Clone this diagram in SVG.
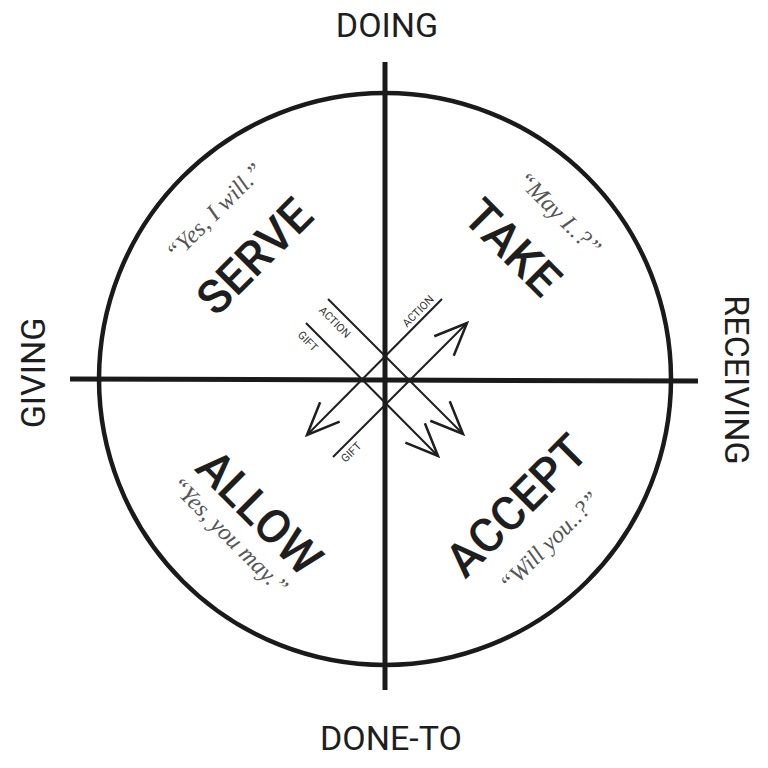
<svg xmlns="http://www.w3.org/2000/svg" width="768" height="768" viewBox="0 0 768 768">
<defs>
<style>
.axis{font-family:Roboto,"Liberation Sans",sans-serif;font-size:34px;fill:#1e1e1e;text-anchor:middle}
.big{font-family:Roboto,"Liberation Sans",sans-serif;font-size:47px;font-weight:500;fill:#1e1e1e;text-anchor:middle}
.quote{font-family:"Liberation Serif",serif;font-style:italic;font-size:24px;fill:#555;text-anchor:middle}
.small{font-family:Roboto,"Liberation Sans",sans-serif;font-size:11px;fill:#333;text-anchor:middle}
.arrow{stroke:#1e1e1e;stroke-width:2;fill:none;marker-end:url(#head)}
</style>
<marker id="head" markerUnits="userSpaceOnUse" markerWidth="40" markerHeight="40" viewBox="-30 -15 32 30" refX="0" refY="0" orient="auto">
<path d="M-26,-11 L0,0 L-26,11" fill="none" stroke="#1e1e1e" stroke-width="2"/>
</marker>
</defs>
<rect width="768" height="768" fill="#fff"/>
<g id="frame" stroke="#1a1a1a" fill="none">
<circle cx="385" cy="379" r="286" stroke-width="4.5"/>
<line x1="385" y1="62" x2="385" y2="690" stroke-width="5"/>
<line x1="70" y1="379" x2="698" y2="381" stroke-width="5"/>
</g>
<g id="axis-labels">
<text id="doing" class="axis" x="387" y="37">DOING</text>
<text id="done-to" class="axis" x="391" y="750">DONE-TO</text>
<text id="giving" class="axis" transform="translate(45,373) rotate(-90)">GIVING</text>
<text id="receiving" class="axis" transform="translate(725,380) rotate(90)">RECEIVING</text>
</g>
<g id="serve"><text class="big" transform="translate(254,256) rotate(-45)" y="17">SERVE</text>
<text class="quote" transform="translate(216,213) rotate(-45)" y="6">“Yes, I will.”</text></g>
<g id="take"><text class="big" transform="translate(513,247) rotate(45)" y="17">TAKE</text>
<text class="quote" transform="translate(558,215) rotate(45)" y="6">“May I..?”</text></g>
<g id="allow"><text class="big" transform="translate(260,512) rotate(45)" y="17">ALLOW</text>
<text class="quote" transform="translate(228,537) rotate(45)" y="6">“Yes, you may.”</text></g>
<g id="accept"><text class="big" transform="translate(516,505) rotate(-45)" y="17">ACCEPT</text>
<text class="quote" transform="translate(551,543) rotate(-45)" y="6">“Will you..?”</text></g>
<g id="connectors">
<line class="arrow" x1="328" y1="299" x2="463" y2="434"/>
<line class="arrow" x1="306" y1="323" x2="438" y2="456"/>
<line class="arrow" x1="442" y1="299" x2="307" y2="435"/>
<line class="arrow" x1="333" y1="457" x2="467" y2="323"/>
</g>
<g id="arrow-labels">
<text class="small" transform="translate(335,322) rotate(45)" y="4">ACTION</text>
<text class="small" transform="translate(308,341) rotate(45)" y="4">GIFT</text>
<text class="small" transform="translate(418,311) rotate(-45)" y="4">ACTION</text>
<text class="small" transform="translate(351,452) rotate(-45)" y="4">GIFT</text>
</g>
</svg>
